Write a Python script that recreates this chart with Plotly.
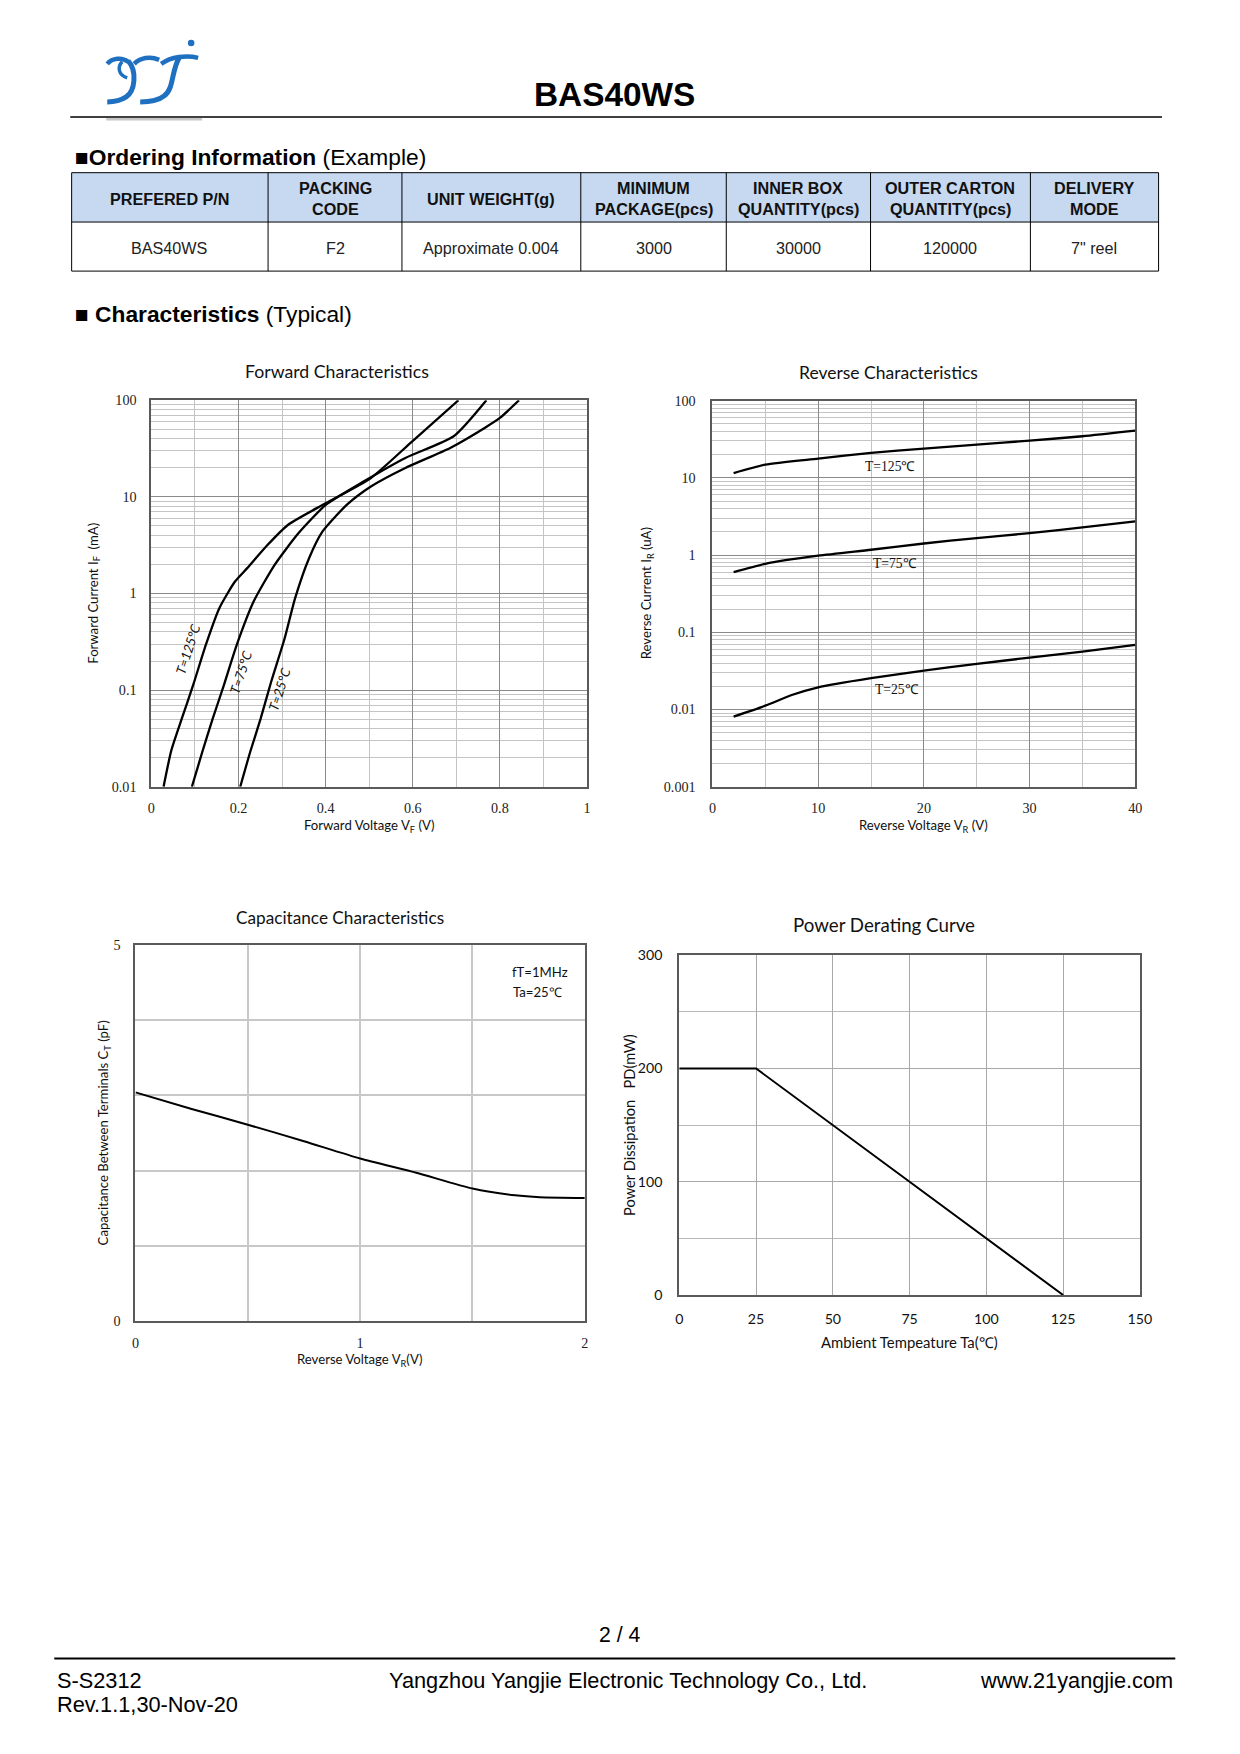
import numpy as np
import plotly.graph_objects as go

# page is 1240x1754; the browser keeps an 8px body margin, so the figure is 1224x1738
PAGE_W, PAGE_H = 1240, 1754
OFF = 8
W, H = PAGE_W - 2 * OFF, PAGE_H - 2 * OFF
# measured capture correction (rendered = s * page + b)
SX, BX = 0.9878, 2.8
SY, BY = 0.989, 8.3
FS = 1 / 0.9885  # font scale compensation


def px(x):
    return ((x - BX) / SX - OFF) / W


def py(y):
    return 1 - ((y - BY) / SY - OFF) / H


def f(s):
    return s * FS


# ---------------- data ----------------
# Forward characteristics (V, mA)
fwd_v_125 = [0.028, 0.046, 0.070, 0.096, 0.125, 0.156, 0.192, 0.220, 0.267, 0.314, 0.401, 0.504, 0.599, 0.705]
fwd_i_125 = [0.01, 0.024, 0.051, 0.113, 0.294, 0.705, 1.33, 1.83, 3.19, 5.15, 8.63, 15.7, 37.6, 100]
fwd_v_75 = [0.093, 0.117, 0.141, 0.164, 0.196, 0.235, 0.283, 0.338, 0.401, 0.488, 0.583, 0.694, 0.769]
fwd_i_75 = [0.01, 0.023, 0.051, 0.104, 0.294, 0.83, 1.98, 4.22, 8.3, 14.5, 25.3, 42.4, 100]
fwd_v_25 = [0.204, 0.227, 0.251, 0.275, 0.306, 0.330, 0.362, 0.393, 0.449, 0.504, 0.583, 0.686, 0.765, 0.800, 0.844]
fwd_i_25 = [0.01, 0.023, 0.051, 0.122, 0.344, 0.895, 2.32, 4.39, 8.3, 12.8, 19.9, 32.1, 51.7, 65.6, 100]
fwd_labels = ["T=125°C", "T=75°C", "T=25°C"]
fwd_label_v = [0.084, 0.206, 0.294]
fwd_label_i = [0.267, 0.153, 0.103]

# Reverse characteristics (V, uA)
rev_v = [2, 5, 10, 15, 20, 25, 30, 35, 40]
rev_i_125 = [11.5, 14.8, 17.7, 21.0, 23.9, 26.9, 30.3, 34.5, 40.8]
rev_i_75 = [0.60, 0.77, 0.98, 1.17, 1.41, 1.66, 1.92, 2.28, 2.73]
rev_v_25 = [2, 5, 7.5, 10, 15, 20, 25, 30, 35, 40]
rev_i_25 = [0.0081, 0.0112, 0.0154, 0.0194, 0.0254, 0.0319, 0.0389, 0.047, 0.056, 0.0687]
rev_labels = ["T=125℃", "T=75℃", "T=25℃"]
rev_label_v = [16.8, 17.3, 17.5]
rev_label_i = [14.1, 0.77, 0.0183]

# Capacitance (V, pF)
cap_v = [0, 0.25, 0.5, 0.75, 1.0, 1.25, 1.5, 1.69, 1.8, 2.0]
cap_c = [3.04, 2.82, 2.61, 2.39, 2.16, 1.97, 1.76, 1.67, 1.645, 1.635]

# Power derating (degC, mW)
pd_t = [0, 25, 125]
pd_p = [200, 200, 0]

# Ordering table
tbl_header = ["PREFERED P/N", "PACKING\nCODE", "UNIT WEIGHT(g)", "MINIMUM\nPACKAGE(pcs)",
              "INNER BOX\nQUANTITY(pcs)", "OUTER CARTON\nQUANTITY(pcs)", "DELIVERY\nMODE"]
tbl_row = ["BAS40WS", "F2", "Approximate 0.004", "3000", "30000", "120000", '7" reel']

# tick labels
fwd_x_ticks = [0, 0.2, 0.4, 0.6, 0.8, 1]
fwd_x_text = ["0", "0.2", "0.4", "0.6", "0.8", "1"]
fwd_y_ticks = [0.01, 0.1, 1, 10, 100]
fwd_y_text = ["0.01", "0.1", "1", "10", "100"]
rev_x_ticks = [0, 10, 20, 30, 40]
rev_y_ticks = [0.001, 0.01, 0.1, 1, 10, 100]
rev_y_text = ["0.001", "0.01", "0.1", "1", "10", "100"]
cap_x_ticks = [0, 1, 2]
cap_y_ticks = [0, 5]
pd_x_ticks = [0, 25, 50, 75, 100, 125, 150]
pd_y_ticks = [0, 100, 200, 300]

# ---------------- styles ----------------
SERIF = "Liberation Serif"
SANS = "Lato"
ARIAL = "Liberation Sans"
BORDER = "#5a5a5a"
MAJ = "#8a8a8a"
MIN = "#c4c4c4"

fig = go.Figure()

line_style = dict(color="black", width=2.3, shape="spline", smoothing=0.6)
for v, i in [(fwd_v_125, fwd_i_125), (fwd_v_75, fwd_i_75), (fwd_v_25, fwd_i_25)]:
    fig.add_trace(go.Scatter(x=v, y=i, mode="lines", line=line_style, xaxis="x", yaxis="y",
                             showlegend=False, hoverinfo="skip"))
for v, i in [(rev_v, rev_i_125), (rev_v, rev_i_75), (rev_v_25, rev_i_25)]:
    fig.add_trace(go.Scatter(x=v, y=i, mode="lines", line=line_style, xaxis="x2", yaxis="y2",
                             showlegend=False, hoverinfo="skip"))
fig.add_trace(go.Scatter(x=cap_v, y=cap_c, mode="lines",
                         line=dict(color="black", width=2, shape="spline", smoothing=0.6),
                         xaxis="x3", yaxis="y3", showlegend=False, hoverinfo="skip"))
fig.add_trace(go.Scatter(x=pd_t, y=pd_p, mode="lines", line=dict(color="black", width=2),
                         xaxis="x4", yaxis="y4", showlegend=False, hoverinfo="skip"))


def log_minor(lo, hi):
    return [m * 10.0 ** e for e in range(lo, hi) for m in range(2, 10)]


def ax(domain, anchor, **kw):
    d = dict(domain=domain, anchor=anchor, showline=True, mirror=True, linecolor=BORDER, linewidth=2,
             zeroline=False, ticks="", showgrid=True, layer="below traces")
    d.update(kw)
    return d


def xdom(a, b):
    return [px(a), px(b)]


def ydom(top, bottom):
    return [py(bottom), py(top)]


fig.update_layout(
    width=W, height=H, margin=dict(l=0, r=0, t=0, b=0),
    paper_bgcolor="white", plot_bgcolor="white", showlegend=False,
    # forward
    xaxis=ax(xdom(150.2, 586.2), "y", range=[0, 1], tickmode="array", tickvals=fwd_x_ticks, ticktext=fwd_x_text,
             gridcolor=MAJ, gridwidth=1.3,
             minor=dict(tickmode="array", tickvals=[0.1, 0.3, 0.5, 0.7, 0.9], showgrid=True, gridcolor=MIN, gridwidth=1),
             tickfont=dict(family=SERIF, size=f(14), color="#222"), ticklabelstandoff=7),
    yaxis=ax(ydom(399, 785), "x", type="log", range=[-2, 2], tickmode="array", tickvals=fwd_y_ticks,
             ticktext=fwd_y_text, gridcolor=MAJ, gridwidth=1.3,
             minor=dict(tickmode="array", tickvals=log_minor(-2, 2), showgrid=True, gridcolor=MIN, gridwidth=1),
             tickfont=dict(family=SERIF, size=f(14), color="#222"), ticklabelstandoff=10),
    # reverse
    xaxis2=ax(xdom(711.8, 1135), "y2", range=[0, 40], tickmode="array", tickvals=rev_x_ticks,
              gridcolor=MAJ, gridwidth=1.3,
              minor=dict(tickmode="array", tickvals=[5, 15, 25, 35], showgrid=True, gridcolor=MIN, gridwidth=1),
              tickfont=dict(family=SERIF, size=f(14), color="#222"), ticklabelstandoff=7),
    yaxis2=ax(ydom(399.3, 785), "x2", type="log", range=[-3, 2], tickmode="array", tickvals=rev_y_ticks,
              ticktext=rev_y_text, gridcolor=MAJ, gridwidth=1.3,
              minor=dict(tickmode="array", tickvals=log_minor(-3, 2), showgrid=True, gridcolor=MIN, gridwidth=1),
              tickfont=dict(family=SERIF, size=f(14), color="#222"), ticklabelstandoff=12),
    # capacitance
    xaxis3=ax(xdom(134.3, 584), "y3", range=[0, 2], tickmode="array", tickvals=cap_x_ticks,
              gridcolor="#c8c8c8", gridwidth=1.5,
              minor=dict(tickmode="array", tickvals=[0.5, 1.5], showgrid=True, gridcolor="#c8c8c8", gridwidth=1.5),
              tickfont=dict(family=SERIF, size=f(14), color="#222"), ticklabelstandoff=8),
    yaxis3=ax(ydom(943.3, 1318.3), "x3", range=[0, 5], tickmode="array", tickvals=cap_y_ticks,
              gridcolor="#c8c8c8", gridwidth=1.5,
              minor=dict(tickmode="array", tickvals=[1, 2, 3, 4], showgrid=True, gridcolor="#c8c8c8", gridwidth=1.5),
              tickfont=dict(family=SERIF, size=f(14), color="#222"), ticklabelstandoff=10),
    # power
    xaxis4=ax(xdom(678.6, 1139.6), "y4", range=[0, 150], tickmode="array", tickvals=pd_x_ticks,
              gridcolor="#a8a8a8", gridwidth=1.3,
              tickfont=dict(family=SANS, size=f(14), color="#111"), ticklabelstandoff=10),
    yaxis4=ax(ydom(953.3, 1292.7), "x4", range=[0, 300], tickmode="array", tickvals=pd_y_ticks,
              gridcolor="#a8a8a8", gridwidth=1.3,
              minor=dict(tickmode="array", tickvals=[50, 150, 250], showgrid=True, gridcolor="#b8b8b8", gridwidth=1.3),
              tickfont=dict(family=SANS, size=f(14), color="#111"), ticklabelstandoff=12),
)

ann = []


def text(x, y, s, size, family=ARIAL, color="#000", xanchor="center", angle=0, yanchor="middle"):
    ann.append(dict(x=px(x), y=py(y), xref="paper", yref="paper", text=s, showarrow=False,
                    xanchor=xanchor, yanchor=yanchor, textangle=angle,
                    font=dict(family=family, size=f(size), color=color)))


# header / footer
text(614, 94, "<b>BAS40WS</b>", 33)
text(72, 156, "■<b>Ordering Information</b> (Example)", 22.5, xanchor="left")
text(72, 313, "■ <b>Characteristics</b> (Typical)", 22.5, xanchor="left")
text(619, 1632, "2 / 4", 21)
text(54, 1678, "S-S2312", 21.5, xanchor="left")
text(54, 1702, "Rev.1.1,30-Nov-20", 21.5, xanchor="left")
text(627, 1678, "Yangzhou Yangjie Electronic Technology Co., Ltd.", 21.5)
text(1175, 1678, "www.21yangjie.com", 21.5, xanchor="right")

# chart titles & axis titles
text(335.5, 370, "Forward Characteristics", 17.5, SANS, "#111")
text(888, 371, "Reverse Characteristics", 17.3, SANS, "#111")
text(339, 916, "Capacitance Characteristics", 17, SANS, "#111")
text(883, 923, "Power Derating Curve", 18.5, SANS, "#111")
text(368, 824, "Forward Voltage V<sub>F</sub> (V)", 13, SANS, "#111")
text(93, 592, "Forward Current I<sub>F</sub>  (mA)", 13, SANS, "#111", angle=-90)
text(923, 824, "Reverse Voltage V<sub>R</sub> (V)", 13, SANS, "#111")
text(647, 592, "Reverse Current I<sub>R</sub> (uA)", 13, SANS, "#111", angle=-90)
text(359, 1358, "Reverse Voltage V<sub>R</sub>(V)", 13, SANS, "#111")
text(103, 1131, "Capacitance Between Terminals C<sub>T</sub> (pF)", 13, SANS, "#111", angle=-90)
text(909, 1340, "Ambient Tempeature Ta(℃)", 14.7, SANS, "#111")
text(628, 1123, "Power Dissipation   PD(mW)", 14.5, SANS, "#111", angle=-90)

# table
col_x = [70.4, 267, 401, 580, 725.6, 870, 1030, 1158.3]
t_top, t_mid, t_bot = 171.7, 221, 270
for k in range(len(tbl_header)):
    cx = (col_x[k] + col_x[k + 1]) / 2
    lines = tbl_header[k].split("\n")
    hc = 197.5
    for j, ln in enumerate(lines):
        yy = hc + (j - (len(lines) - 1) / 2) * 21.6
        text(cx, yy, "<b>" + ln + "</b>", 16, ARIAL, "#111")
    text(cx, 246.7, tbl_row[k], 16, ARIAL, "#222")

# curve labels
for s, v, i in zip(fwd_labels, fwd_label_v, fwd_label_i):
    ann.append(dict(x=v, y=np.log10(i), xref="x", yref="y", text="<i>" + s + "</i>", showarrow=False,
                    textangle=-72, font=dict(family=SANS, size=f(13), color="#111")))
for s, v, i in zip(rev_labels, rev_label_v, rev_label_i):
    ann.append(dict(x=v, y=np.log10(i), xref="x2", yref="y2", text=s, showarrow=False,
                    font=dict(family=SERIF, size=f(13.5), color="#111")))
ann.append(dict(x=1.80, y=4.65, xref="x3", yref="y3", text="fT=1MHz", showarrow=False,
                font=dict(family=SANS, size=f(13), color="#111")))
ann.append(dict(x=1.79, y=4.38, xref="x3", yref="y3", text="Ta=25℃", showarrow=False,
                font=dict(family=SANS, size=f(13), color="#111")))

shapes = []


def rect(x0, y0, x1, y1, fill=None, line_color="black", lw=1):
    shapes.append(dict(type="rect", xref="paper", yref="paper", x0=px(x0), x1=px(x1), y0=py(y0), y1=py(y1),
                       fillcolor=fill if fill else "rgba(0,0,0,0)",
                       line=dict(color=line_color, width=lw), layer="below"))


def hline(x0, x1, y, color="black", lw=1):
    shapes.append(dict(type="line", xref="paper", yref="paper", x0=px(x0), x1=px(x1), y0=py(y), y1=py(y),
                       line=dict(color=color, width=lw)))


def vline(x, y0, y1, color="black", lw=1):
    shapes.append(dict(type="line", xref="paper", yref="paper", x0=px(x), x1=px(x), y0=py(y0), y1=py(y1),
                       line=dict(color=color, width=lw)))


rect(col_x[0], t_top, col_x[-1], t_mid, fill="#c6d9f1", line_color="rgba(0,0,0,0)", lw=0)
rect(col_x[0], t_top, col_x[-1], t_bot, line_color="black", lw=1)
hline(col_x[0], col_x[-1], t_mid)
for xv in col_x[1:-1]:
    vline(xv, t_top, t_bot)

# header and footer rules
hline(69, 1161.7, 116, lw=1.5)
rect(105, 117, 201, 119.5, fill="#c8c8c8", line_color="rgba(0,0,0,0)", lw=0)
hline(53, 1175, 1655.7, lw=2.2)


# logo
def bez(points):
    s = "M %f,%f" % (px(points[0][0]), py(points[0][1]))
    for k in range(1, len(points), 3):
        c1, c2, e = points[k], points[k + 1], points[k + 2]
        s += " C %f,%f %f,%f %f,%f" % (px(c1[0]), py(c1[1]), px(c2[0]), py(c2[1]), px(e[0]), py(e[1]))
    return s


LOGO = "#1f70c1"
logo_strokes = [
    ([(106, 63), (111, 57), (121, 56), (127, 61)], 4.5),
    ([(121, 61), (116, 66), (117, 74), (126, 77)], 3.5),
    ([(127, 60), (136, 70), (134, 90), (125, 96), (119, 100), (112, 101), (106, 101)], 5),
    ([(133, 63), (139, 57), (149, 55), (158, 59)], 4.5),
    ([(160, 63), (170, 56), (185, 54), (197, 57)], 4.5),
    ([(178, 57), (170, 70), (173, 88), (163, 95), (157, 100), (148, 101), (139, 101)], 5),
]
for pts, w in logo_strokes:
    shapes.append(dict(type="path", xref="paper", yref="paper", path=bez(pts),
                       line=dict(color=LOGO, width=w)))
shapes.append(dict(type="circle", xref="paper", yref="paper", x0=px(186.7), x1=px(193.3), y0=py(45.5), y1=py(38.9),
                   fillcolor=LOGO, line=dict(color=LOGO, width=0)))

fig.update_layout(annotations=ann, shapes=shapes)

fig.write_html("out.html", config={"displayModeBar": False})
